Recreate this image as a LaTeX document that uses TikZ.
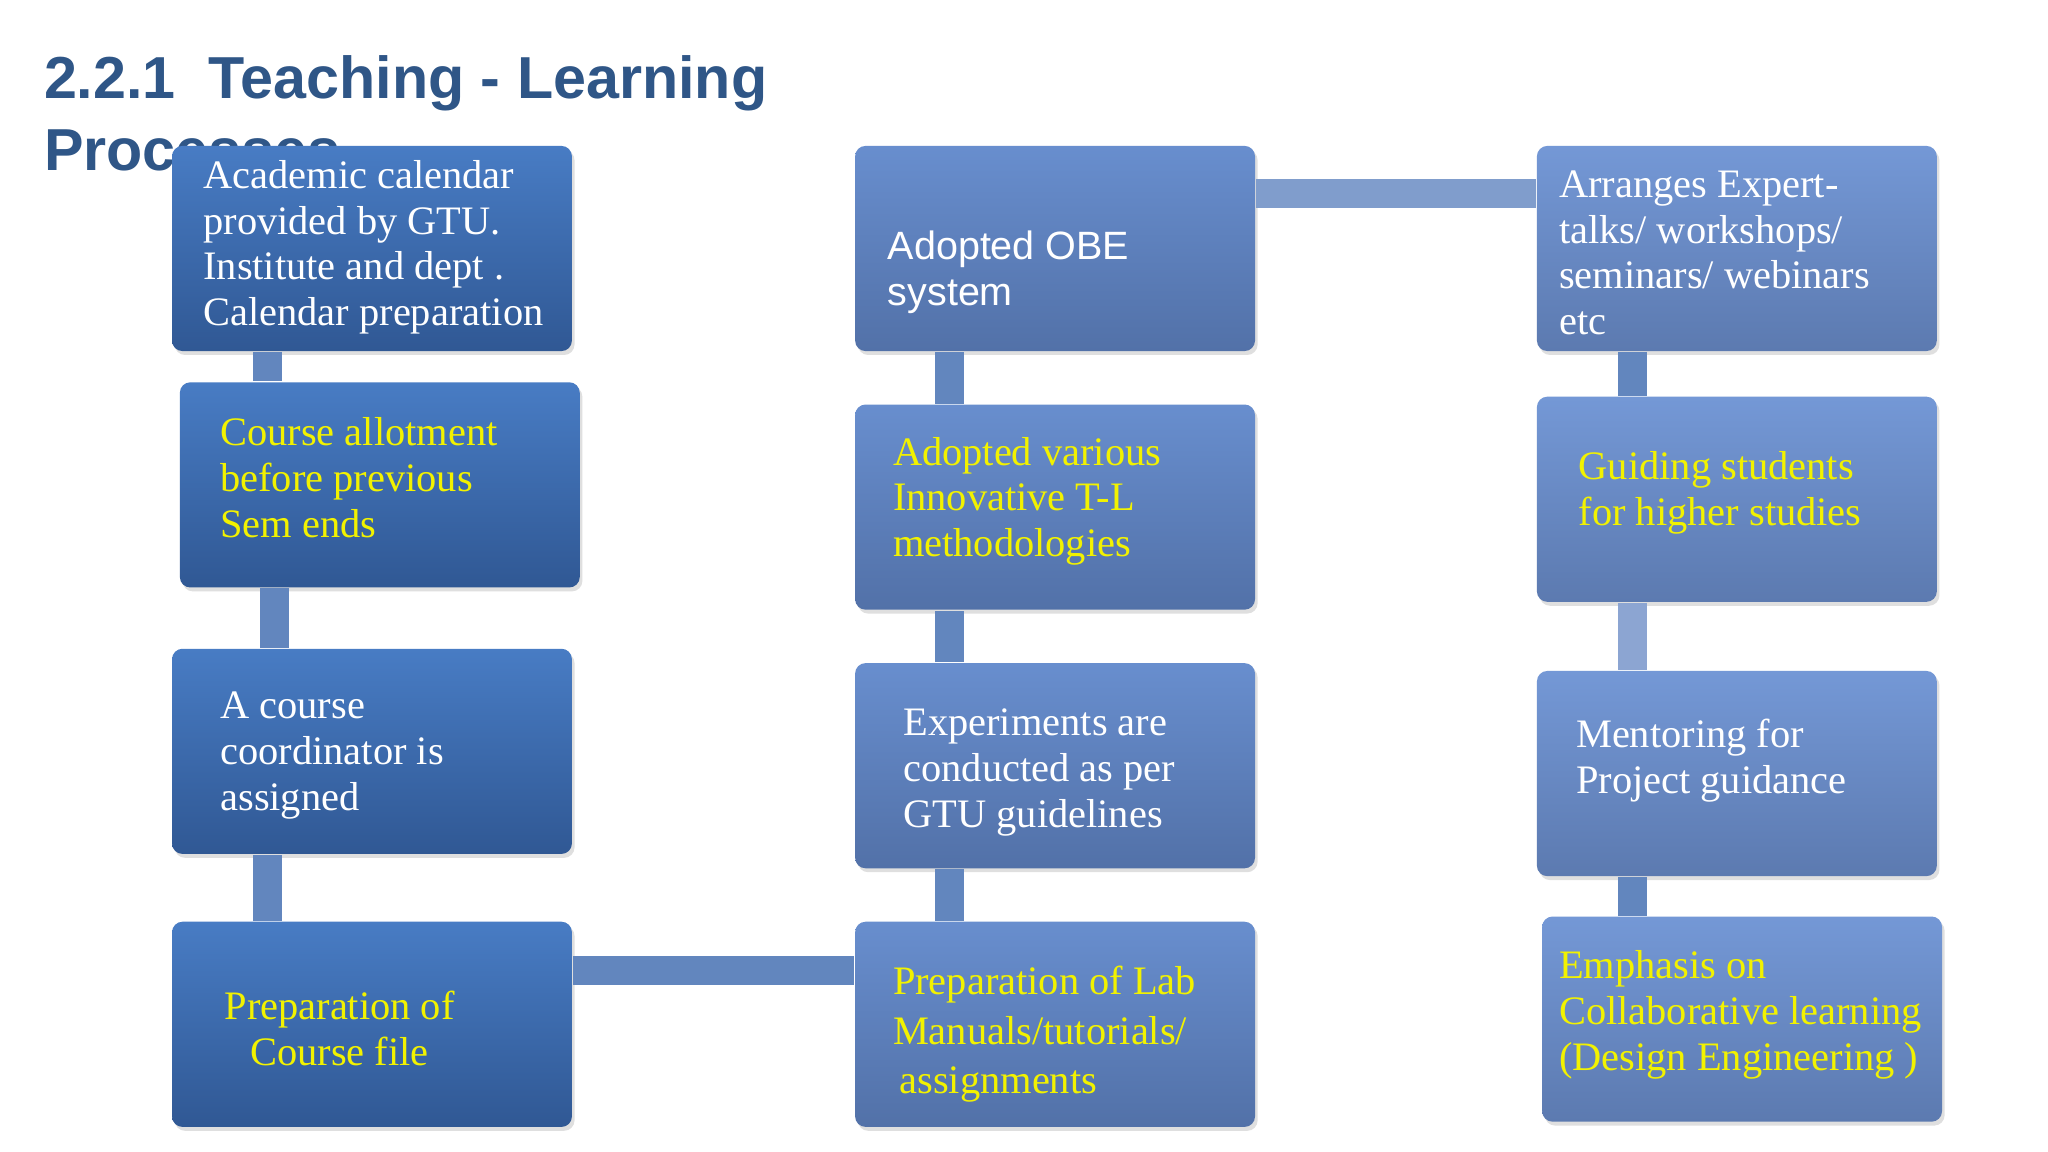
\documentclass[tikz,border=0pt]{standalone}
\usepackage{fontspec}
\setmainfont{Liberation Serif}
\newfontfamily\sansf{Liberation Sans}
\usetikzlibrary{shadows}
\definecolor{titc}{HTML}{2F5687}
\definecolor{yel}{HTML}{F2F200}
\definecolor{barc}{HTML}{6286BE}
\tikzset{
 boxa/.style={rounded corners=0.08cm, minimum width=3.06cm, minimum height=1.57cm, anchor=north west, inner sep=0,
   drop shadow={opacity=0.25, shadow xshift=0.02cm, shadow yshift=-0.03cm}},
 col1/.style={boxa, top color={rgb,255:red,72;green,124;blue,196}, bottom color={rgb,255:red,48;green,88;blue,148}},
 col2/.style={boxa, top color={rgb,255:red,104;green,142;blue,206}, bottom color={rgb,255:red,82;green,113;blue,168}},
 col3/.style={boxa, top color={rgb,255:red,116;green,152;blue,214}, bottom color={rgb,255:red,92;green,122;blue,176}},
 txt/.style={anchor=north west, inner sep=0, align=left, font=\fontsize{8.8}{9.96}\selectfont, text=white},
 ytxt/.style={txt, text=yel},
 bar/.style={draw=barc, line width=0.22cm},
}
\begin{document}
\begin{tikzpicture}[x=0.01cm,y=-0.01cm]
\useasboundingbox[fill=white] (0,0) rectangle (1568,882);
\node[anchor=north west, inner sep=0, align=left, text=titc, font=\sansf\bfseries\fontsize{12.9}{15.6}\selectfont] (title) at (33,42) {2.2.1~ Teaching - Learning\\Processes};
% boxes
\node[col1] (A) at (131,111) {};
\node[col1] (B) at (137,292) {};
\node[col1] (C) at (131,496) {};
\node[col1] (D) at (131,705) {};
\node[col2] (E) at (654,111) {};
\node[col2] (F) at (654,309) {};
\node[col2] (G) at (654,507) {};
\node[col2] (H) at (654,705) {};
\node[col3] (I) at (1176,111) {};
\node[col3] (J) at (1176,303) {};
\node[col3] (K) at (1176,513) {};
\node[col3] (L) at (1180,701) {};
% connectors
\draw[bar] ([xshift=0.74cm]A.south west) -- ([xshift=0.74cm]A.south west |- B.north);
\draw[bar] ([xshift=0.73cm]B.south west) -- ([xshift=0.73cm]B.south west |- C.north);
\draw[bar] ([xshift=0.74cm]C.south west) -- ([xshift=0.74cm]C.south west |- D.north);
\draw[bar] ([yshift=-0.38cm]D.north east) -- ([yshift=-0.38cm]D.north east -| H.west);
\draw[bar] ([xshift=0.73cm]H.north west) -- ([xshift=0.73cm]H.north west |- G.south);
\draw[bar] ([xshift=0.73cm]G.north west) -- ([xshift=0.73cm]G.north west |- F.south);
\draw[bar] ([xshift=0.73cm]F.north west) -- ([xshift=0.73cm]F.north west |- E.south);
\draw[bar, draw={rgb,255:red,128;green,157;blue,204}] ([yshift=-0.37cm]E.north east) -- ([yshift=-0.37cm]E.north east -| I.west);
\draw[bar] ([xshift=0.74cm]I.south west) -- ([xshift=0.74cm]I.south west |- J.north);
\draw[bar, draw={rgb,255:red,140;green,165;blue,210}] ([xshift=0.74cm]J.south west) -- ([xshift=0.74cm]J.south west |- K.north);
\draw[bar] ([xshift=0.74cm]K.south west) -- ([xshift=0.74cm]K.south west |- L.north);
% texts
\node[txt] (tA) at (155,122) {Academic calendar\\provided by GTU.\\Institute and dept .\\Calendar preparation};
\node[ytxt] (tB) at (168,319) {Course allotment\\before previous\\Sem ends};
\node[txt] (tC) at (168,529) {A course\\coordinator is\\assigned};
\node[ytxt, align=center, anchor=north] (tD) at (260,758) {Preparation of\\Course file};
\node[txt, font=\sansf\fontsize{8.6}{10}\selectfont] (tE) at (679,176) {Adopted OBE\\system};
\node[ytxt] (tF) at (683,334) {Adopted various\\Innovative T-L\\methodologies};
\node[txt] (tG) at (691,542) {Experiments are\\conducted as per\\GTU guidelines};
\node[ytxt, font=\fontsize{8.8}{10.8}\selectfont] (tH) at (683,739) {Preparation of Lab\\Manuals/tutorials/\\\hspace{0.05cm}assignments};
\node[txt] (tI) at (1193,130) {Arranges Expert-\\talks/ workshops/\\seminars/ webinars\\etc};
\node[ytxt] (tJ) at (1208,345) {Guiding students\\for higher studies};
\node[txt] (tK) at (1206,550) {Mentoring for\\Project guidance};
\node[ytxt] (tL) at (1193,727) {Emphasis on\\Collaborative learning\\(Design Engineering )};
\end{tikzpicture}
\end{document}
